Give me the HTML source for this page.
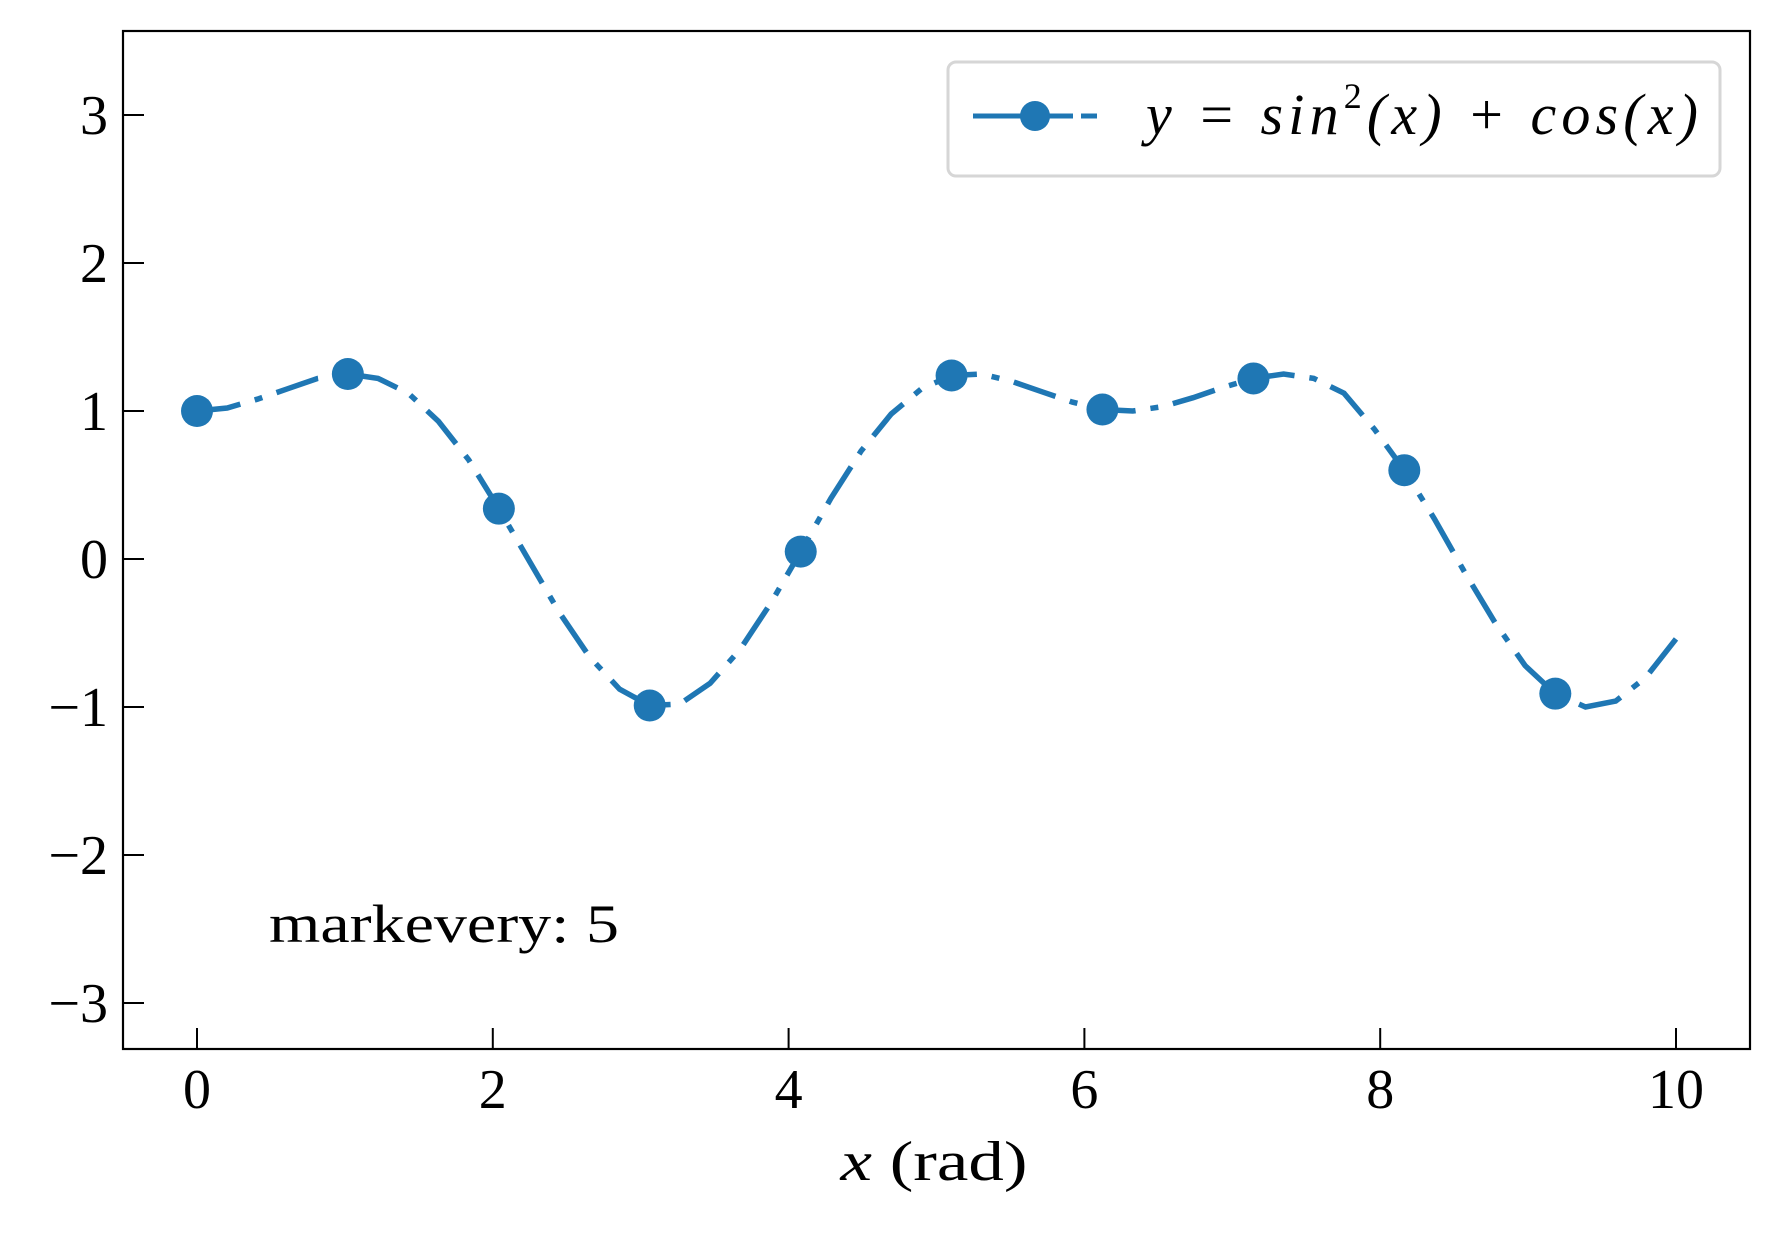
<!DOCTYPE html>
<html><head><meta charset="utf-8"><style>
body{margin:0;background:#fff;}
svg text{font-family:"Liberation Serif",serif;fill:#000;}
</style></head><body>
<svg width="1780" height="1228" viewBox="0 0 1780 1228" xmlns="http://www.w3.org/2000/svg">
<rect width="1780" height="1228" fill="#fff"/>
<g id="plot"></g>
<rect x="123" y="31" width="1627" height="1018" fill="none" stroke="#000" stroke-width="2.2"/>
<g>
<rect x="948" y="62" width="772" height="114" rx="8" fill="#fff" fill-opacity="0.8" stroke="#d6d6d6" stroke-width="3"/>
<g>
<line x1="973" y1="116" x2="1097" y2="116" stroke="#1f77b4" stroke-width="5" stroke-dasharray="58,12,30,8"/>
<circle cx="1035" cy="116" r="15" fill="#1f77b4"/>
<text x="1146" y="134" font-size="58" font-style="italic" textLength="552" lengthAdjust="spacing">y = sin<tspan font-style="normal" font-size="36" dy="-26">2</tspan><tspan dy="26">(x) + cos(x)</tspan></text>
</g>
</g>
<text x="269" y="942" font-size="54" textLength="350" lengthAdjust="spacingAndGlyphs">markevery: 5</text>
<text x="934" y="1180" font-size="56" text-anchor="middle" textLength="187" lengthAdjust="spacingAndGlyphs"><tspan font-style="italic">x</tspan> (rad)</text>
</svg>
<script>
const xValues=[0,0.204,0.408,0.612,0.816,1.020,1.224,1.429,1.633,1.837,2.041,2.245,2.449,2.653,2.857,3.061,3.265,3.469,3.673,3.878,4.082,4.286,4.490,4.694,4.898,5.102,5.306,5.510,5.714,5.918,6.122,6.327,6.531,6.735,6.939,7.143,7.347,7.551,7.755,7.959,8.163,8.367,8.571,8.776,8.980,9.184,9.388,9.592,9.796,10];
const yValues=[1.00,1.02,1.08,1.15,1.22,1.25,1.22,1.12,0.93,0.67,0.34,-0.01,-0.36,-0.66,-0.88,-0.99,-0.98,-0.84,-0.61,-0.30,0.05,0.41,0.73,0.98,1.15,1.24,1.25,1.20,1.13,1.06,1.01,1.00,1.03,1.09,1.16,1.22,1.25,1.22,1.12,0.88,0.60,0.27,-0.09,-0.43,-0.72,-0.91,-1.00,-0.96,-0.80,-0.54];
const xTicks=[0,2,4,6,8,10];
const yTicks=[-3,-2,-1,0,1,2,3];
const markEvery=5;
const NS="http://www.w3.org/2000/svg";
const X=v=>197+v*147.9;
const Y=v=>559-v*148;
const g=document.getElementById('plot');
function mk(t,a){const e=document.createElementNS(NS,t);for(const k in a)e.setAttribute(k,a[k]);g.appendChild(e);return e;}
xTicks.forEach(t=>{
  const l=mk('line',{x1:X(t),x2:X(t),y1:1049,y2:1028,stroke:'#000','stroke-width':2});
  
  
  const tx=mk('text',{x:X(t),y:1108,'font-size':56,'text-anchor':'middle'});
  
  
  tx.textContent=String(t);
});
yTicks.forEach(t=>{
  const l=mk('line',{x1:123,x2:144,y1:Y(t),y2:Y(t),stroke:'#000','stroke-width':2});
  
  
  const tx=mk('text',{x:108,y:Y(t)+19,'font-size':56,'text-anchor':'end'});
  
  
  tx.textContent=(t<0?'\u2212':'')+Math.abs(t);
});
const d=xValues.map((x,i)=>(i?'L':'M')+X(x).toFixed(1)+' '+Y(yValues[i]).toFixed(1)).join(' ');
const p=mk('path',{d:d,fill:'none',stroke:'#1f77b4','stroke-width':5.5,'stroke-dasharray':'44,15,8,15'});


xValues.forEach((x,i)=>{
  if(i%markEvery!==0)return;
  const c=mk('circle',{cx:X(x),cy:Y(yValues[i]),r:16,fill:'#1f77b4'});
  
  
});
</script>
</body></html>
